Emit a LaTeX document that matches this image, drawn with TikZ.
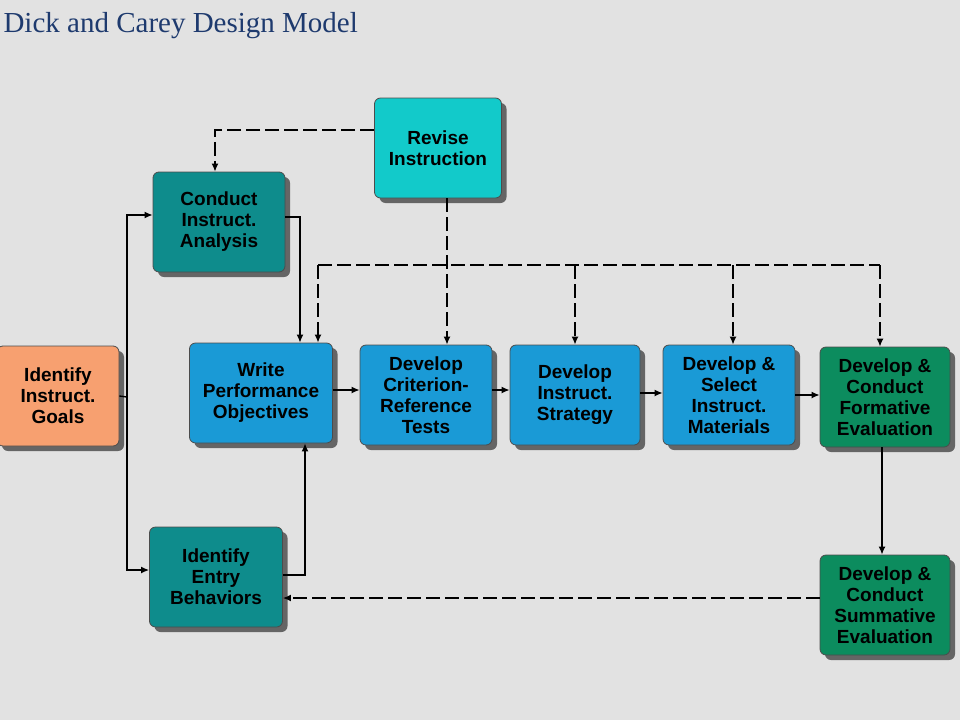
\documentclass[tikz,border=0pt]{standalone}
\usepackage{fontspec}
\setmainfont{Liberation Sans}
\newfontfamily\ttl{Liberation Serif}
\usetikzlibrary{shadows,arrows.meta}
\definecolor{bg}{HTML}{E2E2E2}
\definecolor{orng}{HTML}{F7A070}
\definecolor{teal}{HTML}{0E8C8C}
\definecolor{cyan}{HTML}{12CACA}
\definecolor{blu}{HTML}{1A9AD6}
\definecolor{grn}{HTML}{0C8C5E}
\definecolor{ttlc}{HTML}{1E3A6E}
\begin{document}
\begin{tikzpicture}[x=1pt,y=-1pt,
 box/.style={draw=black!70,line width=0.8pt,rounded corners=6pt,align=center,
   font=\bfseries\fontsize{19}{21}\selectfont,inner sep=0pt,
   drop shadow={shadow xshift=5pt,shadow yshift=-5pt,fill=black,opacity=0.55}},
 ln/.style={line width=1.4pt,-{Latex[length=8pt,width=7pt]}},
 dl/.style={ln,dash pattern=on 14pt off 5pt},
 dn/.style={line width=1.4pt,dash pattern=on 14pt off 5pt}]
\fill[bg] (0,0) rectangle (960,720);
\useasboundingbox (0,0) rectangle (960,720);
\node[anchor=west,text=ttlc,font=\ttl\fontsize{29}{31}\selectfont] (t) at (0,26) {Dick and Carey Design Model};
\newcommand\bx[7]{\node[box,fill=#6,minimum width=#4pt,minimum height=#5pt] (#1) at (#2,#3) {#7};}
\bx{goal}{58}{396}{122}{100}{orng}{Identify\\Instruct.\\Goals}
\bx{cia}{219}{222}{132}{100}{teal}{Conduct\\Instruct.\\Analysis}
\bx{rev}{438}{148}{127}{100}{cyan}{Revise\\Instruction}
\bx{wpo}{261}{393}{143}{100}{blu}{Write\\Performance\\Objectives}
\bx{crt}{426}{395}{132}{100}{blu}{Develop\\Criterion-\\Reference\\Tests}
\bx{str}{575}{395}{130}{100}{blu}{Develop\\Instruct.\\Strategy}
\bx{mat}{729}{395}{132}{100}{blu}{Develop \&\\Select\\Instruct.\\Materials}
\bx{frm}{885}{397}{130}{100}{grn}{Develop \&\\Conduct\\Formative\\Evaluation}
\bx{ent}{216}{577}{133}{100}{teal}{Identify\\Entry\\Behaviors}
\bx{sum}{885}{605}{130}{100}{grn}{Develop \&\\Conduct\\Summative\\Evaluation}
\coordinate (j) at (127,397);
\draw[line width=1.4pt] (goal.east) -- (j);
\draw[ln] (j) |- (cia.west |- 0,215);
\draw[ln] (j) |- (ent.west |- 0,570);
\draw[ln] (cia.east |- 0,217) -| (wpo.north -| 300,0);
\draw[ln] (ent.east |- 0,575) -| (wpo.south -| 305,0);
\draw[ln] (wpo.east |- 0,390) -- (crt.west |- 0,390);
\draw[ln] (crt.east |- 0,390) -- (str.west |- 0,390);
\draw[ln] (str.east |- 0,393) -- (mat.west |- 0,393);
\draw[ln] (mat.east |- 0,395) -- (frm.west |- 0,395);
\draw[ln] (frm.south -| 882,0) -- (sum.north -| 882,0);
\draw[dl] (sum.west |- 0,598) -- (ent.east |- 0,598);
\draw[dl] (rev.west |- 0,130) -| (cia.north -| 215,0);
\draw[dl] (rev.south -| 447,0) -- (crt.north -| 447,0);
\coordinate (h1) at (318,265); \coordinate (h2) at (880,265);
\draw[dn] (h1) -- (h2);
\draw[dl] (h1) -- (wpo.north -| 318,0);
\draw[dl] (575,265) -- (str.north -| 575,0);
\draw[dl] (733,265) -- (mat.north -| 733,0);
\draw[dl] (h2) -- (frm.north -| 880,0);
\end{tikzpicture}
\end{document}
